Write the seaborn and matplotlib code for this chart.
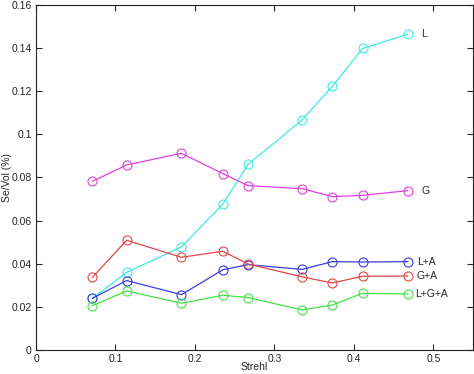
"""
Se/Vol versus Strehl for the different correction modes
"""
import matplotlib
matplotlib.use('Agg')
import matplotlib.pyplot as plt
import seaborn as sns
import pandas as pd

# data
strehl = [0.071, 0.114, 0.183, 0.235, 0.267, 0.335, 0.373, 0.411, 0.468]
se_L = [0.0240, 0.0360, 0.0478, 0.0676, 0.0861, 0.1067, 0.1223, 0.1398, 0.1464]
se_G = [0.0782, 0.0858, 0.0912, 0.0818, 0.0762, 0.0748, 0.0711, 0.0717, 0.0739]
se_LA = [0.0240, 0.0322, 0.0257, 0.0372, 0.0396, 0.0374, 0.0410, 0.0408, 0.0410]
se_GA = [0.0337, 0.0509, 0.0430, 0.0458, 0.0399, 0.0339, 0.0311, 0.0342, 0.0343]
se_LGA = [0.0206, 0.0274, 0.0217, 0.0254, 0.0243, 0.0186, 0.0209, 0.0263, 0.0260]

series = ['L', 'G', 'L+A', 'G+A', 'L+G+A']
values = [se_L, se_G, se_LA, se_GA, se_LGA]
colors = ['#3ee8e8', '#e23ee2', '#3a3ae0', '#e04848', '#46e046']
label_x = [0.485, 0.485, 0.479, 0.479, 0.477]

sns.set_style('ticks')
plt.rcParams['font.family'] = ['Liberation Sans', 'DejaVu Sans']
plt.rcParams['font.size'] = 7.5

fig = plt.figure(figsize=(4.74, 3.74), dpi=100)
ax = fig.add_axes([0.076, 0.064, 0.922, 0.923])

for name, vals, color, lx in zip(series, values, colors, label_x):
    df = pd.DataFrame({'Strehl': strehl, 'SeVol': vals})
    sns.lineplot(data=df, x='Strehl', y='SeVol', ax=ax, color=color,
                 marker='o', markersize=6.5, markerfacecolor='none',
                 markeredgecolor=color, markeredgewidth=0.8, linewidth=0.9)
    ax.text(lx, vals[-1], name, va='center', ha='left', fontsize=7.5)

ax.set_xlim(0, 0.55)
ax.set_ylim(0, 0.16)
ax.set_xticks([0, 0.1, 0.2, 0.3, 0.4, 0.5])
ax.set_xticklabels(['0', '0.1', '0.2', '0.3', '0.4', '0.5'])
ax.set_yticks([0, 0.02, 0.04, 0.06, 0.08, 0.1, 0.12, 0.14, 0.16])
ax.set_yticklabels(['0', '0.02', '0.04', '0.06', '0.08', '0.1', '0.12', '0.14', '0.16'])
ax.tick_params(direction='in', top=True, right=True, length=4, width=0.8,
               labelsize=7.5, pad=3)
for side in ['top', 'right', 'left', 'bottom']:
    ax.spines[side].set_visible(True)
    ax.spines[side].set_linewidth(0.8)
    ax.spines[side].set_color('#222222')

ax.set_xlabel('Strehl', fontsize=7.5)
ax.set_ylabel('Se/Vol (%)', fontsize=7.5)
ax.xaxis.set_label_coords(0.5, -0.036)
ax.yaxis.set_label_coords(-0.056, 0.5)

fig.savefig('out.png', dpi=100)
